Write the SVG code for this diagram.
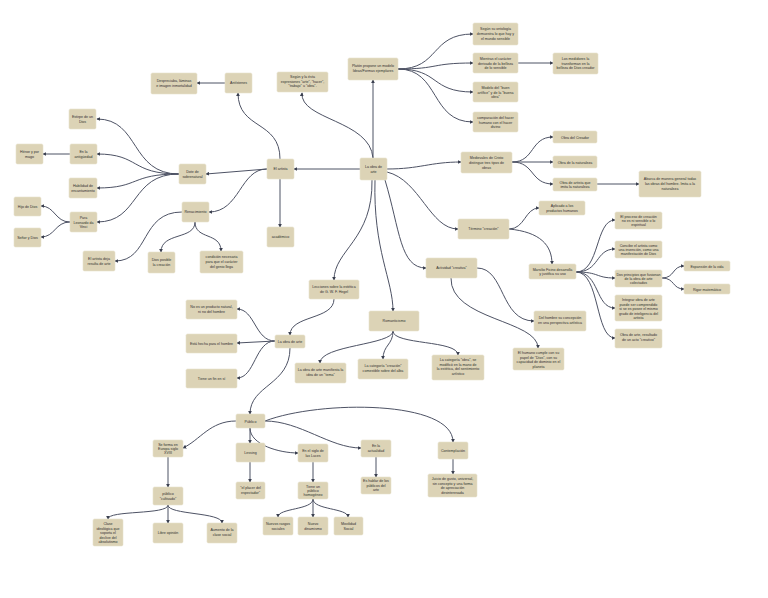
<svg xmlns="http://www.w3.org/2000/svg" width="768" height="598" viewBox="0 0 768 598">
<style>
rect{fill:#dcd3b6;rx:1.5;stroke:#e8e2cf;stroke-width:0.6}
text{font-family:"Liberation Sans",Arial,sans-serif;font-size:3.6px;fill:#2e2e2e;text-anchor:middle}
.c path{fill:none;stroke:#4d5264;stroke-width:1;marker-end:url(#a)}
</style>
<defs><marker id="a" viewBox="0 0 6 6" refX="5" refY="3" markerWidth="4" markerHeight="4" orient="auto"><path d="M0,0L6,3L0,6z" fill="#3b4050"/></marker></defs>
<rect x="0" y="0" width="768" height="598" style="fill:#fff;stroke:none"/>
<g class="c">
<path d="M360,169L294,169"/><path d="M373,158L373,80"/><path d="M373,158C370,120 300,120 302,93"/>
<path d="M387,169C420,169 430,162 461,162"/><path d="M387,172C420,180 430,229 458,229"/>
<path d="M385,180C400,230 400,268 426,268"/><path d="M375,180C373,250 393,280 393,311"/>
<path d="M372,180C373,240 334,250 334,280"/>
<path d="M398,69C440,69 430,34 473,34"/><path d="M398,69C440,69 430,63 473,63"/><path d="M398,69C440,69 430,92 473,92"/><path d="M398,69C440,69 430,122 473,122"/>
<path d="M518,63L553,63"/>
<path d="M512,162C535,162 530,137 553,137"/><path d="M512,162L553,162"/><path d="M512,162C535,162 530,184 553,184"/>
<path d="M597,184L639,184"/>
<path d="M509,229C525,229 525,208 539,208"/><path d="M509,229C540,232 552,245 552,264"/>
<path d="M576,272C600,272 595,220 615,220"/><path d="M576,272C600,272 595,249 615,249"/><path d="M576,272C600,272 595,278 615,278"/><path d="M576,272C600,272 595,308 615,308"/><path d="M576,272C600,272 595,338 615,338"/>
<path d="M662,278C675,278 672,266 684,266"/><path d="M662,278C675,278 672,289 684,289"/>
<path d="M477,268C505,268 500,321 534,321"/><path d="M451,278C450,320 538,320 538,348"/>
<path d="M280,159C280,120 238,130 238,93"/><path d="M267,169L206,174"/><path d="M280,179L280,227"/><path d="M267,169C240,169 240,212 209,212"/>
<path d="M225,83L197,83"/>
<path d="M179,174C130,174 140,119 97,119"/><path d="M179,174C130,174 140,154 97,154"/><path d="M179,174C130,174 140,188 97,188"/><path d="M179,174C130,174 140,222 97,222"/>
<path d="M70,154L43,154"/>
<path d="M70,222C55,222 55,206 41,206"/><path d="M70,222C55,222 55,237 41,237"/>
<path d="M182,212C140,212 150,261 115,261"/><path d="M195,222C195,240 161,232 161,252"/><path d="M195,222C195,240 221,232 221,251"/>
<path d="M334,299C334,320 290,315 290,335"/>
<path d="M275,341C255,341 255,309 237,309"/><path d="M275,341L237,343"/><path d="M275,341C255,341 255,378 237,378"/>
<path d="M290,348C290,385 250,385 250,414"/>
<path d="M393,331C393,345 320,345 320,363"/><path d="M393,331C393,345 383,345 383,359"/><path d="M393,331C393,345 458,340 458,355"/>
<path d="M236,421C210,421 200,440 183,448"/><path d="M250,428L250,443"/><path d="M250,428C250,445 280,453 298,453"/><path d="M265,421C300,421 330,448 361,448"/><path d="M265,421C320,400 453,400 453,442"/>
<path d="M168,457L168,487"/>
<path d="M168,505C168,515 108,510 108,519"/><path d="M168,505L168,523"/><path d="M168,505C168,515 222,512 222,523"/>
<path d="M250,462L250,482"/><path d="M313,462L313,482"/>
<path d="M313,499C313,510 278,508 278,517"/><path d="M313,499L313,517"/><path d="M313,499C313,510 348,508 348,517"/>
<path d="M376,457L376,477"/><path d="M453,459L453,474"/>
</g>
<g id="root"><rect x="360" y="158" width="27" height="22"/><text x="373.5" y="168">La obra de</text><text x="373.5" y="173">arte</text></g>
<g id="artista"><rect x="267" y="159" width="27" height="20"/><text x="280.5" y="170">El artista</text></g>
<g id="antistenes"><rect x="225" y="73" width="27" height="20"/><text x="238.5" y="84">Antístenes</text></g>
<g id="desprecia"><rect x="151" y="73" width="46" height="21"/><text x="174" y="82">Despreciaba, láminas</text><text x="174" y="87">e imagen inmortalidad</text></g>
<g id="estirpe"><rect x="69" y="109" width="27" height="20"/><text x="82.5" y="118">Estirpe de un</text><text x="82.5" y="123">Dios</text></g>
<g id="antig"><rect x="70" y="144" width="27" height="20"/><text x="83.5" y="153">En la</text><text x="83.5" y="158">antigüedad</text></g>
<g id="heroe"><rect x="16" y="144" width="27" height="20"/><text x="29.5" y="153">Héroe y por</text><text x="29.5" y="158">mago</text></g>
<g id="habilidad"><rect x="69" y="178" width="28" height="20"/><text x="83" y="187">Habilidad de</text><text x="83" y="192">encantamiento</text></g>
<g id="dote"><rect x="179" y="164" width="27" height="20"/><text x="192.5" y="173">Dote de</text><text x="192.5" y="178">sobrenatural</text></g>
<g id="leonardo"><rect x="70" y="212" width="27" height="20"/><text x="83.5" y="219">Para</text><text x="83.5" y="223.5">Leonardo da</text><text x="83.5" y="228">Vinci</text></g>
<g id="hijo"><rect x="14" y="197" width="27" height="19"/><text x="27.5" y="208">Hijo de Dios</text></g>
<g id="senor"><rect x="14" y="228" width="27" height="19"/><text x="27.5" y="239">Señor y Dios</text></g>
<g id="renac"><rect x="182" y="202" width="27" height="20"/><text x="195.5" y="213">Renacimiento</text></g>
<g id="artesano"><rect x="83" y="251" width="32" height="20"/><text x="99" y="260">El artista deja</text><text x="99" y="265">resulta de arte</text></g>
<g id="diosposible"><rect x="148" y="252" width="27" height="21"/><text x="161.5" y="261">Dios posible</text><text x="161.5" y="266">la creación</text></g>
<g id="condicion"><rect x="200" y="251" width="43" height="22"/><text x="221.5" y="258">condición necesaria</text><text x="221.5" y="263">para que el carácter</text><text x="221.5" y="268">del genio llega</text></g>
<g id="academico"><rect x="267" y="227" width="27" height="20"/><text x="280.5" y="238">académico</text></g>
<g id="segun"><rect x="277" y="72" width="51" height="20"/><text x="302.5" y="78">Según y la ésta</text><text x="302.5" y="82.5">expresiones "arte", "hacer",</text><text x="302.5" y="87">"trabajo" u "obra".</text></g>
<g id="platon"><rect x="348" y="58" width="50" height="22"/><text x="373" y="67">Platón propone un modelo</text><text x="373" y="72">Ideas/Formas ejemplares</text></g>
<g id="ontologia"><rect x="473" y="23" width="45" height="22"/><text x="495.5" y="30">Según su ontología</text><text x="495.5" y="35">demuestra lo que hay y</text><text x="495.5" y="40">el mundo sensible</text></g>
<g id="mientras"><rect x="473" y="53" width="45" height="20"/><text x="495.5" y="60">Mientras el carácter</text><text x="495.5" y="64.5">derivado de la belleza</text><text x="495.5" y="69">de lo sensible</text></g>
<g id="medidores"><rect x="553" y="53" width="45" height="21"/><text x="575.5" y="60">Los medidores la</text><text x="575.5" y="64.5">transforman en la</text><text x="575.5" y="69">belleza de Dios creador</text></g>
<g id="modelo"><rect x="473" y="82" width="45" height="20"/><text x="495.5" y="89">Modelo del "buen</text><text x="495.5" y="93.5">artífice" y de la "buena</text><text x="495.5" y="98">obra"</text></g>
<g id="comparacion"><rect x="473" y="112" width="45" height="20"/><text x="495.5" y="119">comparación del hacer</text><text x="495.5" y="123.5">humano con el hacer</text><text x="495.5" y="128">divino</text></g>
<g id="medievales"><rect x="461" y="152" width="51" height="21"/><text x="486.5" y="159">Medievales de Cristo</text><text x="486.5" y="164">distingue tres tipos de</text><text x="486.5" y="169">obras</text></g>
<g id="creador"><rect x="553" y="131" width="44" height="12"/><text x="575" y="138.5">Obra del Creador</text></g>
<g id="naturaleza"><rect x="553" y="156" width="44" height="12"/><text x="575" y="163.5">Obra de la naturaleza</text></g>
<g id="imita"><rect x="553" y="178" width="44" height="13"/><text x="575" y="183.5">Obra de artista que</text><text x="575" y="188">imita la naturaleza</text></g>
<g id="abarca"><rect x="639" y="171" width="62" height="26"/><text x="670" y="180">Abarca de manera general todas</text><text x="670" y="185">las obras del hombre. Imita a la</text><text x="670" y="190">naturaleza</text></g>
<g id="termino"><rect x="458" y="219" width="51" height="20"/><text x="483.5" y="230">Término "creación"</text></g>
<g id="aplicado"><rect x="539" y="201" width="46" height="14"/><text x="562" y="207">Aplicado a los</text><text x="562" y="211.5">productos humanos</text></g>
<g id="marsilio"><rect x="529" y="264" width="47" height="15"/><text x="552.5" y="270.5">Marsilio Ficino desarrolla</text><text x="552.5" y="275">y justifica su uso</text></g>
<g id="proceso"><rect x="615" y="212" width="47" height="17"/><text x="638.5" y="218">El proceso de creación</text><text x="638.5" y="222">no es ni sensible o lo</text><text x="638.5" y="226">espiritual</text></g>
<g id="concibe"><rect x="615" y="241" width="47" height="17"/><text x="638.5" y="247">Concibe el artista como</text><text x="638.5" y="251">una invención, como una</text><text x="638.5" y="255">manifestación de Dios</text></g>
<g id="dosprinc"><rect x="615" y="270" width="47" height="17"/><text x="638.5" y="276">Dos principios que fusionan</text><text x="638.5" y="280">de la obra de arte</text><text x="638.5" y="284">colectados</text></g>
<g id="expansion"><rect x="684" y="261" width="46" height="10"/><text x="707" y="267.5">Expansión de la vida</text></g>
<g id="rigor"><rect x="684" y="284" width="46" height="10"/><text x="707" y="290.5">Rigor matemático</text></g>
<g id="integrar"><rect x="615" y="295" width="47" height="26"/><text x="638.5" y="301">Integrar obra de arte</text><text x="638.5" y="305.5">puede ser comprendido</text><text x="638.5" y="310">si se es posee el mismo</text><text x="638.5" y="314.5">grado de inteligencia del</text><text x="638.5" y="319">artista</text></g>
<g id="obraacto"><rect x="615" y="329" width="47" height="19"/><text x="638.5" y="336">Obra de arte, resultado</text><text x="638.5" y="341">de un acto "creativo"</text></g>
<g id="actividad"><rect x="426" y="258" width="51" height="20"/><text x="451.5" y="269">Actividad "creativa"</text></g>
<g id="delhombre"><rect x="534" y="311" width="52" height="20"/><text x="560" y="319">Del hombre su concepción</text><text x="560" y="324">en una perspectiva artística</text></g>
<g id="humano"><rect x="513" y="348" width="51" height="22"/><text x="538.5" y="354">El humano cumple con su</text><text x="538.5" y="358.5">papel de "Dios", con su</text><text x="538.5" y="363">capacidad de dominio en el</text><text x="538.5" y="367.5">planeta</text></g>
<g id="hegel"><rect x="309" y="280" width="50" height="19"/><text x="334" y="288">Lecciones sobre la estética</text><text x="334" y="293">de G. W. F. Hegel</text></g>
<g id="romant"><rect x="369" y="311" width="50" height="20"/><text x="394" y="322">Romanticismo</text></g>
<g id="laobra"><rect x="275" y="335" width="30" height="13"/><text x="290" y="343">La obra de arte</text></g>
<g id="noes"><rect x="186" y="300" width="51" height="19"/><text x="211.5" y="308">No es un producto natural,</text><text x="211.5" y="313">ni no del hombre</text></g>
<g id="hecha"><rect x="186" y="334" width="51" height="19"/><text x="211.5" y="345">Está hecha para el hombre</text></g>
<g id="finensi"><rect x="186" y="369" width="51" height="19"/><text x="211.5" y="380">Tiene un fin en sí</text></g>
<g id="manifiesta"><rect x="295" y="363" width="51" height="20"/><text x="320.5" y="371">La obra de arte manifiesta la</text><text x="320.5" y="376">idea de un "tema"</text></g>
<g id="catcrea"><rect x="358" y="359" width="50" height="20"/><text x="383" y="367">La categoría "creación"</text><text x="383" y="372">comestible sobre del alba</text></g>
<g id="catobra"><rect x="432" y="355" width="52" height="25"/><text x="458" y="361">La categoría "obra", se</text><text x="458" y="365.5">modificó en la mano de</text><text x="458" y="370">la estética, del sentimiento</text><text x="458" y="374.5">artístico</text></g>
<g id="publico"><rect x="236" y="414" width="29" height="14"/><text x="250.5" y="422.5">Público</text></g>
<g id="seforma"><rect x="153" y="440" width="30" height="17"/><text x="168" y="446">Se forma en</text><text x="168" y="450">Europa siglo</text><text x="168" y="454">XVIII</text></g>
<g id="cultivado"><rect x="153" y="487" width="30" height="18"/><text x="168" y="495">público</text><text x="168" y="499.5">"cultivado"</text></g>
<g id="clase"><rect x="93" y="519" width="30" height="27"/><text x="108" y="525">Clase</text><text x="108" y="529.5">ideológica que</text><text x="108" y="534">soporta el</text><text x="108" y="538.5">declive del</text><text x="108" y="543">absolutismo</text></g>
<g id="libre"><rect x="153" y="523" width="30" height="20"/><text x="168" y="534">Libre opinión</text></g>
<g id="aumento"><rect x="207" y="523" width="30" height="20"/><text x="222" y="531">Aumento de la</text><text x="222" y="536">clase social</text></g>
<g id="lessing"><rect x="236" y="443" width="29" height="19"/><text x="250.5" y="454">Lessing</text></g>
<g id="placer"><rect x="236" y="482" width="29" height="17"/><text x="250.5" y="489">"el placer del</text><text x="250.5" y="494">espectador"</text></g>
<g id="siglo"><rect x="298" y="444" width="30" height="18"/><text x="313" y="452">En el siglo de</text><text x="313" y="457">las Luces</text></g>
<g id="tiene"><rect x="298" y="482" width="30" height="17"/><text x="313" y="488">Tiene un</text><text x="313" y="492">público</text><text x="313" y="496">homogéneo</text></g>
<g id="nuevos"><rect x="263" y="517" width="30" height="18"/><text x="278" y="525">Nuevos rasgos</text><text x="278" y="530">sociales</text></g>
<g id="dinam"><rect x="298" y="517" width="30" height="18"/><text x="313" y="525">Nuevo</text><text x="313" y="530">dinamismo</text></g>
<g id="movil"><rect x="334" y="517" width="29" height="18"/><text x="348.5" y="525">Movilidad</text><text x="348.5" y="530">Social</text></g>
<g id="actual"><rect x="361" y="440" width="30" height="17"/><text x="376" y="447">En la</text><text x="376" y="452">actualidad</text></g>
<g id="hablar"><rect x="361" y="477" width="30" height="17"/><text x="376" y="482">Es hablar de los</text><text x="376" y="486.5">públicos del</text><text x="376" y="491">arte</text></g>
<g id="contemp"><rect x="438" y="442" width="30" height="17"/><text x="453" y="452">Contemplación</text></g>
<g id="juicio"><rect x="428" y="474" width="49" height="23"/><text x="452.5" y="480">Juicio de gusto, universal,</text><text x="452.5" y="484.5">sin concepto y una forma</text><text x="452.5" y="489">de apreciación</text><text x="452.5" y="493.5">desinteresada</text></g>
</svg>
